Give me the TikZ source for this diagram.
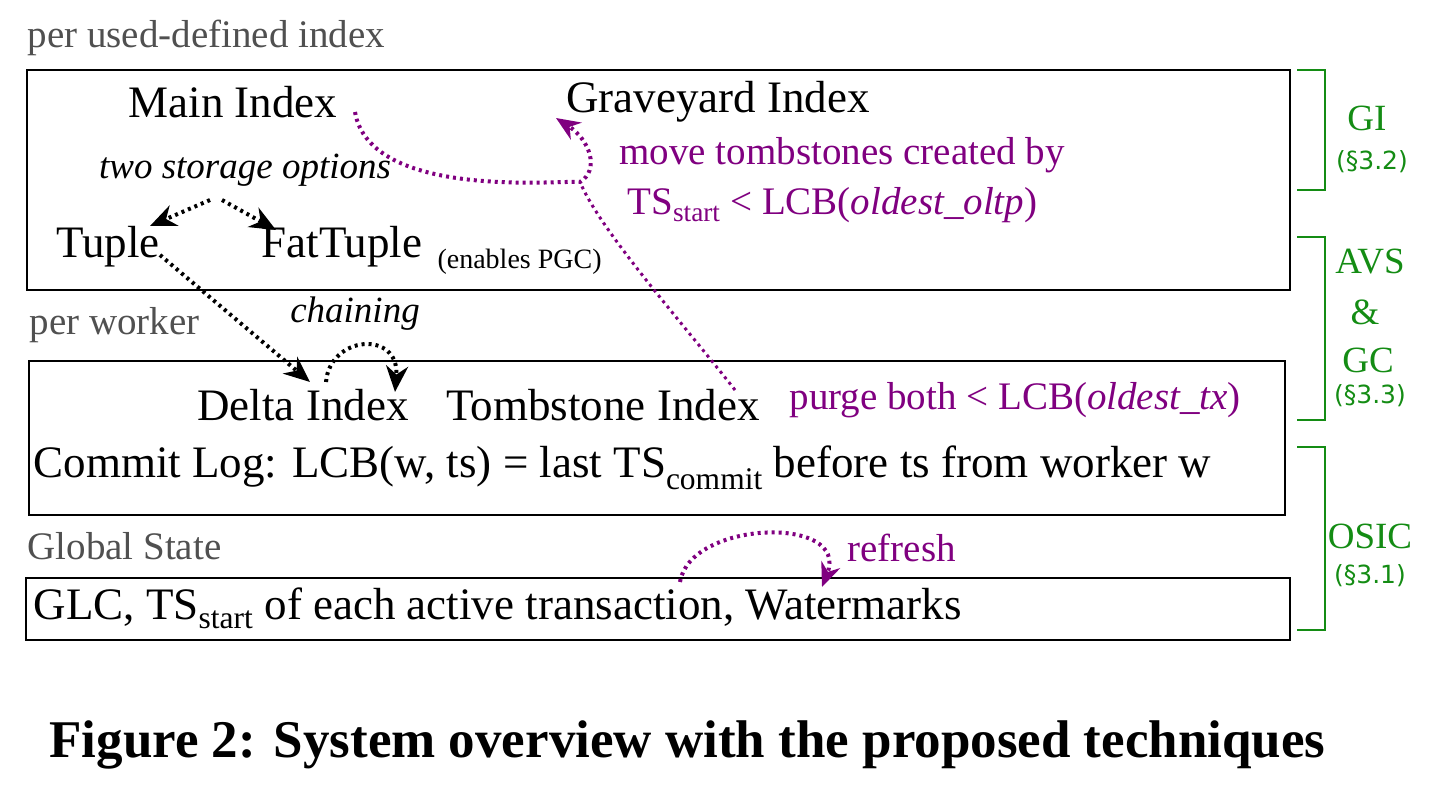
\documentclass[tikz,border=0pt]{standalone}
\usepackage{fontspec}
\setmainfont{Liberation Serif}
\newfontfamily\dejavu{DejaVu Sans}
\usetikzlibrary{arrows.meta}
\definecolor{pur}{RGB}{128,0,128}
\definecolor{grn}{RGB}{20,140,20}
\definecolor{gr}{RGB}{80,80,80}
\begin{document}
\begin{tikzpicture}[x=1pt,y=-1pt,
  box/.style={draw,line width=2pt},
  big/.style={font=\fontsize{45}{48}\selectfont},
  lbl/.style={font=\fontsize{39}{42}\selectfont,text=gr},
  pl/.style={font=\fontsize{39}{42}\selectfont,text=pur},
  gl/.style={font=\fontsize{37}{40}\selectfont,text=grn},
  gs/.style={font=\dejavu\fontsize{25}{28}\selectfont,text=grn},
  dots/.style={line width=4pt,dash pattern=on 3pt off 4pt},
  darr/.style={dots,-{Stealth[length=26pt,width=22pt]}},
  parr/.style={dots,pur,-{Stealth[length=24pt,width=20pt]}},
  brk/.style={grn,line width=2pt}]
\useasboundingbox (0,0) rectangle (1440,791);
\node[lbl,anchor=west] (l1) at (24,38) {per used-defined index};
\draw[box] (27,70) rectangle (1290,290);
\node[big] (main) at (233,102) {Main Index};
\node[big] (grave) at (718,102) {Graveyard Index};
\node[font=\itshape\fontsize{37}{40}\selectfont] (two) at (245,170) {two storage options};
\node[big] (tuple) at (108,247) {Tuple};
\node[big] (fat) at (342,247) {FatTuple};
\node[font=\fontsize{28}{30}\selectfont,anchor=west] (pgc) at (434,262) {(enables PGC)};
\node[pl,anchor=west] (mv) at (616,155) {move tombstones created by};
\node[pl,anchor=west] (ts) at (624,205) {TS\textsubscript{start} < LCB(\textit{oldest\_oltp})};
\node[lbl,anchor=west] (l2) at (26,325) {per worker};
\node[font=\itshape\fontsize{37}{40}\selectfont] (ch) at (355,314) {chaining};
\draw[box] (29,361) rectangle (1285,515);
\node[big] (delta) at (303,405) {Delta Index};
\node[big] (tomb) at (603,405) {Tombstone Index};
\node[pl,anchor=west] (pg) at (786,400) {purge both < LCB(\textit{oldest\_tx})};
\node[big,anchor=west] (cl) at (30,468) {Commit Log: LCB(w, ts) = last TS\textsubscript{commit} before ts from worker w};
\node[lbl,anchor=west] (l3) at (24,546) {Global State};
\draw[box] (26,578) rectangle (1290,640);
\node[big,anchor=west] (glc) at (30,608) {GLC, TS\textsubscript{start} of each active transaction, Watermarks};
\node[pl,anchor=west] (rf) at (844,548) {refresh};
% brackets
\draw[brk] (1297,70) -- (1325,70) -- (1325,190) -- (1297,190);
\draw[brk] (1297,237) -- (1325,237) -- (1325,420) -- (1297,420);
\draw[brk] (1297,447) -- (1325,447) -- (1325,630) -- (1297,630);
\node[gl] (gi) at (1367,118) {GI};
\node[gs] (s32) at (1372,162) {(§3.2)};
\node[gl] (avs) at (1370,262) {AVS};
\node[gl] (amp) at (1365,312) {\&};
\node[gl] (gc) at (1368,360) {GC};
\node[gs] (s33) at (1370,396) {(§3.3)};
\node[gl] (osic) at (1370,536) {OSIC};
\node[gs] (s31) at (1370,576) {(§3.1)};
\node[font=\bfseries\fontsize{53}{56}\selectfont,anchor=west] (cap) at (46,745) {Figure 2: System overview with the proposed techniques};
% arrows
\coordinate (so) at (210,200);
\coordinate (so2) at (222,200);
\draw[darr] (so) -- (150,226);
\draw[darr] (so2) -- (276,230);
\coordinate (tu) at (160,255);
\draw[darr] (tu) -- (310,382);
\coordinate (c1) at (326,382);
\draw[darr] (c1) .. controls (330,335) and (400,330) .. (395,392);
\coordinate (mi) at (355,112);
\coordinate (jn) at (580,182);
\draw[parr] (mi) .. controls (370,200) and (560,180) .. (jn) .. controls (600,170) and (590,140) .. (556,118);
\coordinate (ti) at (735,390);
\draw[dots,pur,line width=3pt] (ti) .. controls (680,320) and (600,230) .. (jn);
\coordinate (r1) at (680,582);
\draw[parr] (r1) .. controls (690,520) and (850,515) .. (822,587);
\end{tikzpicture}
\end{document}
